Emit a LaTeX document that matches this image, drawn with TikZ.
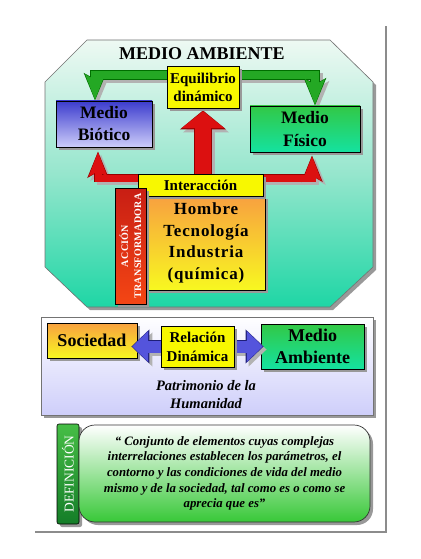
\documentclass[tikz,border=0pt]{standalone}
\usepackage{fontspec}
\setmainfont{Liberation Serif}
\usetikzlibrary{arrows.meta,shadows,calc}
\pgfdeclarelayer{back}
\pgfdeclarelayer{mid}
\pgfsetlayers{back,mid,main}
\definecolor{octtop}{RGB}{238,249,243}
\definecolor{octmid}{RGB}{150,230,205}
\definecolor{octbot}{RGB}{30,214,165}
\definecolor{yelbox}{RGB}{248,248,0}
\definecolor{biotop}{RGB}{60,60,205}
\definecolor{biobot}{RGB}{204,204,250}
\definecolor{fistop}{RGB}{50,200,70}
\definecolor{fisbot}{RGB}{20,226,160}
\definecolor{orgtop}{RGB}{248,160,64}
\definecolor{orgbot}{RGB}{248,248,32}
\definecolor{redtop}{RGB}{200,30,20}
\definecolor{redbot}{RGB}{244,70,20}
\definecolor{arrred}{RGB}{220,16,16}
\definecolor{arrreddk}{RGB}{150,0,0}
\definecolor{arrgreen}{RGB}{36,168,36}
\definecolor{arrgreendk}{RGB}{0,110,0}
\definecolor{arrblue}{RGB}{84,84,220}
\definecolor{arrbluedk}{RGB}{30,30,120}
\definecolor{pantop}{RGB}{255,255,255}
\definecolor{panbot}{RGB}{206,206,250}
\definecolor{deftop}{RGB}{70,190,70}
\definecolor{defbot}{RGB}{20,125,40}
\definecolor{rbbot}{RGB}{56,200,56}
\definecolor{framegray}{RGB}{140,140,140}
\tikzset{
  shad/.style={drop shadow={shadow xshift=3pt,shadow yshift=-3pt,fill=black!40,opacity=1}},
  box/.style={draw=black, line width=0.8pt, inner sep=0pt, align=center, shad},
  arrshadow/.style={draw=black!30, transform canvas={xshift=3pt,yshift=-3pt}},
  garrowO/.style={line width=9.4pt, -{Stealth[width=21.5pt,length=27pt,inset=5.5pt]}},
  garrow/.style={line width=8pt, -{Stealth[width=19pt,length=25pt,inset=5pt]}},
  rarrowO/.style={line width=8.4pt, -{Stealth[width=20.5pt,length=26pt,inset=5.5pt]}},
  rarrow/.style={line width=7pt, -{Stealth[width=18pt,length=24pt,inset=5pt]}},
  bigarrowO/.style={line width=17.6pt, -{Triangle[width=45pt,length=19pt]}},
  bigarrow/.style={line width=16pt, -{Triangle[width=42pt,length=17pt]}},
  barrowO/.style={line width=13.4pt, {Triangle[width=33pt,length=18pt]}-{Triangle[width=33pt,length=18pt]}},
  barrow/.style={line width=12pt, {Triangle[width=30pt,length=16pt]}-{Triangle[width=30pt,length=16pt]}},
}
\begin{document}
\begin{tikzpicture}[x=1pt,y=-1pt]
\begin{pgfonlayer}{back}
\useasboundingbox (0,0) rectangle (420,559);
\fill[white] (0,0) rectangle (420,559);
% page frame
\draw[framegray, line width=1.5pt] (35,532) -- (386,532) -- (386,26);
% octagon
\draw[draw=black!55, line width=0.6pt, top color=octtop, bottom color=octbot, middle color=octmid, shad]
  (87,40) -- (330,40) -- (373,82) -- (373,267) -- (330,307) -- (87,307) -- (45,267) -- (45,82) -- cycle;
\end{pgfonlayer}
\node[font=\bfseries\fontsize{18}{20}\selectfont] (title) at (202,54) {MEDIO AMBIENTE};
\coordinate (eqW) at (167,75);
\coordinate (eqE) at (239,75);
\node[box, fill=yelbox, minimum width=72pt, minimum height=42pt, font=\bfseries\fontsize{15}{18}\selectfont] (eq) at (203,87) {Equilibrio\\dinámico};
\node[box, top color=biotop, bottom color=biobot, minimum width=96pt, minimum height=46pt, font=\bfseries\fontsize{17.5}{22}\selectfont] (bio) at (104,124) {Medio\\Biótico};
\node[box, top color=fistop, bottom color=fisbot, minimum width=110pt, minimum height=46pt, font=\bfseries\fontsize{17.5}{23}\selectfont] (fis) at (305,129) {Medio\\Físico};
\coordinate (interC) at (200.5,185);
\coordinate (interW) at (138,178);
\coordinate (interE) at (263,178);
\node[box, top color=orgtop, bottom color=orgbot, minimum width=118pt, minimum height=94pt, font=\bfseries\fontsize{17}{21.5}\selectfont\addfontfeature{LetterSpace=5}] (hombre) at (206,243) {Hombre\\Tecnología\\Industria\\(química)};
\node[box, fill=yelbox, minimum width=125pt, minimum height=22pt, font=\bfseries\fontsize{15}{17}\selectfont] (inter) at (interC) {Interacción};
\node[box, top color=redtop, bottom color=redbot, minimum width=31pt, minimum height=116pt] (accion) at (130.5,246) {};
\node[rotate=90, text=white, align=center, inner sep=0pt, font=\bfseries\fontsize{10}{13}\selectfont\addfontfeature{LetterSpace=3}] (acciontxt) at (accion) {ACCIÓN\\TRANSFORMADORA};
\begin{pgfonlayer}{mid}
% green arrows
\draw[garrowO, arrshadow] (eq.west |- eqW) -| ($(bio.north)+(-9,0)$);
\draw[garrowO, arrshadow] (eq.east |- eqE) -| ($(fis.north)+(10,0)$);
\draw[garrowO, arrgreendk] (eq.west |- eqW) -| ($(bio.north)+(-9,0)$);
\draw[garrowO, arrgreendk] (eq.east |- eqE) -| ($(fis.north)+(10,0)$);
\draw[garrow, arrgreen] (eq.west |- eqW) -| ($(bio.north)+(-9,-0.8)$);
\draw[garrow, arrgreen] (eq.east |- eqE) -| ($(fis.north)+(10,-0.8)$);
% red arrows
\draw[rarrowO, arrshadow] (inter.west |- interW) -| ($(bio.south)+(-6,4)$);
\draw[rarrowO, arrshadow] (inter.east |- interE) -| ($(fis.south)+(7,3)$);
\draw[bigarrowO, arrshadow] (eq.south |- inter.center) -- ($(eq.south)+(0,2)$);
\draw[rarrowO, arrreddk] (inter.west |- interW) -| ($(bio.south)+(-6,4)$);
\draw[rarrowO, arrreddk] (inter.east |- interE) -| ($(fis.south)+(7,3)$);
\draw[bigarrowO, arrreddk] (eq.south |- inter.center) -- ($(eq.south)+(0,2)$);
\draw[rarrow, arrred] (inter.west |- interW) -| ($(bio.south)+(-6,4.8)$);
\draw[rarrow, arrred] (inter.east |- interE) -| ($(fis.south)+(7,3.8)$);
\draw[bigarrow, arrred] (eq.south |- inter.center) -- ($(eq.south)+(0,2.8)$);
\end{pgfonlayer}
% second panel
\node[draw=black!55, line width=0.6pt, top color=pantop, bottom color=panbot, minimum width=332pt, minimum height=98pt, inner sep=0pt, shad] (panel) at (207,366) {};
\node[box, top color=orgtop, bottom color=orgbot, minimum width=90pt, minimum height=35pt, font=\bfseries\fontsize{18}{20}\selectfont] (soc) at (92,340.5) {Sociedad};
\node[box, top color=fistop, bottom color=fisbot, minimum width=103pt, minimum height=45pt, font=\bfseries\fontsize{18}{22}\selectfont] (ma) at (312.5,346.5) {Medio\\Ambiente};
\coordinate (relC) at (197.5,346.5);
\draw[barrowO, arrshadow] ($(soc.east |- relC)+(-6,0)$) -- ($(ma.west |- relC)+(3,0)$);
\draw[barrowO, arrbluedk] ($(soc.east |- relC)+(-6,0)$) -- ($(ma.west |- relC)+(3,0)$);
\draw[barrow, arrblue] ($(soc.east |- relC)+(-5.2,0)$) -- ($(ma.west |- relC)+(2.2,0)$);
\node[box, fill=yelbox, minimum width=73pt, minimum height=41pt, font=\bfseries\fontsize{15}{19}\selectfont] (rel) at (relC) {Relación\\Dinámica};
\node[align=center, font=\bfseries\itshape\fontsize{14.5}{18}\selectfont] (patr) at (206,395) {Patrimonio de la\\Humanidad};
% definition
\node[draw=black, line width=0.6pt, top color=deftop, bottom color=defbot, rounded corners=2pt, minimum width=22pt, minimum height=100pt, inner sep=0pt, shad] (defl) at (68,474) {};
\node[rotate=90, text=white, inner sep=0pt, font=\fontsize{13.5}{15}\selectfont] (defltxt) at (defl) {DEFINICIÓN};
\node[draw=black!80, line width=0.7pt, top color=white, bottom color=rbbot, rounded corners=16pt, minimum width=291pt, minimum height=97pt, inner sep=0pt, shad] (defbox) at (224.5,473.5) {};
\node[align=center, font=\bfseries\itshape\fontsize{12.8}{15.6}\selectfont] (deftxt) at (defbox) {“ Conjunto de elementos cuyas complejas\\interrelaciones establecen los parámetros, el\\contorno y las condiciones de vida del medio\\mismo y de la sociedad, tal como es o como se\\aprecia que es”};
\end{tikzpicture}
\end{document}
